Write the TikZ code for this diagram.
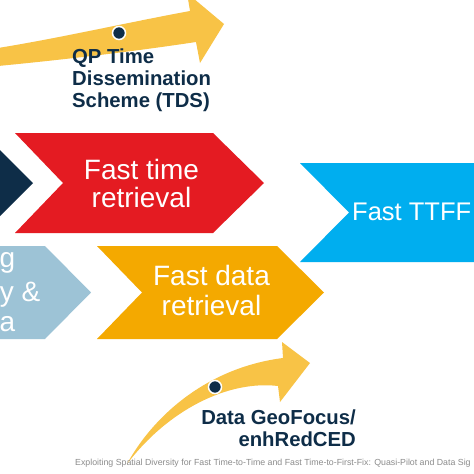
\documentclass[tikz,border=0pt]{standalone}
\usepackage{fontspec}
\setmainfont{Liberation Sans}
\definecolor{navy}{HTML}{0E2D48}
\definecolor{cred}{HTML}{E41B22}
\definecolor{cblue}{HTML}{00AEEF}
\definecolor{corange}{HTML}{F4A900}
\definecolor{clight}{HTML}{9DC3D6}
\definecolor{cyell}{HTML}{F8C346}
\definecolor{capgray}{HTML}{8C8C8C}
\tikzset{
  whitetxt/.style={text=white,inner sep=0pt,anchor=base,font=\fontsize{28}{29}\selectfont},
  navytxt/.style={text=navy,inner sep=0pt,font=\bfseries\fontsize{20.3}{22}\selectfont},
  dotmark/.style={circle,fill=navy,draw=white,line width=1.5pt,minimum size=13pt,inner sep=0pt},
}
\begin{document}
\begin{tikzpicture}[x=1pt,y=-1pt]
\useasboundingbox (0,0) rectangle (474,474);
\fill[white] (0,0) rectangle (474,474);
% chevrons
\fill[navy] (-30,130) -- (-20,130) -- (33,183) -- (-20,236) -- (-30,236) -- cycle;
\fill[cred] (15,133) -- (213,133) -- (264,183) -- (213,233) -- (15,233) -- (63,183) -- cycle;
\fill[cblue] (300,163) -- (490,163) -- (490,262) -- (300,262) -- (349,212.5) -- cycle;
\fill[clight] (-30,246) -- (45,246) -- (91,292.5) -- (45,339) -- (-30,339) -- cycle;
\fill[corange] (97,246) -- (277,246) -- (324,292.5) -- (277,339) -- (97,339) -- (142,292.5) -- cycle;
% top arrow
\fill[cyell] (-2,48) .. controls (60,38) and (130,22) .. (190,11)
  -- (187,-7) -- (224,24) -- (200,63) -- (196,42)
  .. controls (130,52) and (60,60) .. (-2,66) -- cycle;
% bottom arrow
\fill[cyell] (127,464) .. controls (152,418) and (205,368) .. (283,358)
  -- (282,342) -- (310,363) -- (280,402) -- (278,386)
  .. controls (228,380) and (168,410) .. (127,464) -- cycle;
% dots
\node[dotmark] (d1) at (119,33) {};
\node[dotmark] (d2) at (215,387) {};
% texts
\node[whitetxt] (r1) at (141.5,179) {Fast time};
\node[whitetxt] (r2) at (141.5,207.5) {retrieval};
\node[whitetxt] (o1) at (211.5,285.5) {Fast data};
\node[whitetxt] (o2) at (211.5,315.5) {retrieval};
\node[whitetxt,anchor=base west,font=\fontsize{25.5}{27}\selectfont] (b1) at (352,220) {Fast TTFF};
\node[whitetxt,anchor=base east] (l1) at (15.5,267.5) {g};
\node[whitetxt,anchor=base east] (l2) at (40.5,301.5) {y \&};
\node[whitetxt,anchor=base east] (l3) at (15.5,331) {a};
\node[navytxt,anchor=base west] (q1) at (72,63) {QP Time};
\node[navytxt,anchor=base west] (q2) at (72,85) {Dissemination};
\node[navytxt,anchor=base west] (q3) at (72,107) {Scheme (TDS)};
\node[navytxt,anchor=base east] (g1) at (356,424) {Data GeoFocus/};
\node[navytxt,anchor=base east] (g2) at (356,446) {enhRedCED};
\node[text=capgray,inner sep=0pt,anchor=base west,font=\fontsize{8.8}{10}\selectfont] (cap) at (75,465) {Exploiting Spatial Diversity for Fast Time-to-Time and Fast Time-to-First-Fix: Quasi-Pilot and Data Sig};
\end{tikzpicture}
\end{document}
